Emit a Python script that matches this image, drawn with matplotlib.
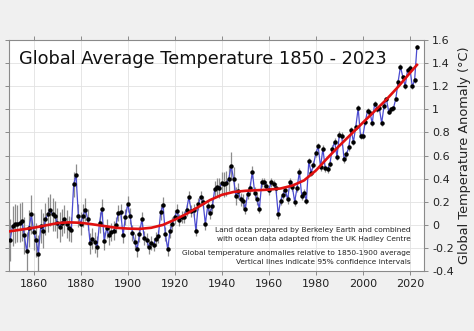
import numpy as np
import matplotlib
matplotlib.use("Agg")
import matplotlib.pyplot as plt

plt.rcParams['font.family'] = ['DejaVu Sans']
plt.rcParams['axes.unicode_minus'] = False

years = list(range(1850, 2024))
anomaly = [
    -0.13, -0.01, 0.01, 0.01, 0.02, 0.03, -0.09, -0.23, -0.03, 0.09,   # 1850s
    -0.06, -0.13, -0.25, -0.01, -0.05, 0.05, 0.09, 0.13, 0.09, 0.08,   # 1860s
    0.02, -0.02, 0.02, 0.05, 0.01, -0.03, -0.04, 0.35, 0.43, 0.08,     # 1870s
    0.01, 0.08, 0.13, 0.05, -0.16, -0.12, -0.15, -0.19, 0.02, 0.14,    # 1880s
    -0.14, -0.03, -0.09, -0.06, -0.05, 0.00, 0.10, 0.11, -0.09, 0.07,  # 1890s
    0.18, 0.08, -0.07, -0.15, -0.21, -0.08, 0.05, -0.11, -0.13, -0.19, # 1900s
    -0.16, -0.17, -0.12, -0.10, 0.11, 0.17, -0.08, -0.21, -0.05, 0.01, # 1910s
    0.07, 0.12, 0.04, 0.07, 0.07, 0.13, 0.24, 0.12, 0.13, -0.05,       # 1920s
    0.18, 0.24, 0.20, 0.01, 0.16, 0.10, 0.16, 0.31, 0.33, 0.32,        # 1930s
    0.36, 0.35, 0.36, 0.40, 0.51, 0.40, 0.25, 0.29, 0.22, 0.21,        # 1940s
    0.14, 0.27, 0.32, 0.46, 0.28, 0.22, 0.14, 0.37, 0.37, 0.34,        # 1950s
    0.30, 0.37, 0.35, 0.32, 0.09, 0.21, 0.26, 0.30, 0.22, 0.37,        # 1960s
    0.33, 0.20, 0.32, 0.46, 0.25, 0.28, 0.21, 0.55, 0.45, 0.52,        # 1970s
    0.62, 0.68, 0.50, 0.66, 0.49, 0.48, 0.53, 0.66, 0.72, 0.59,        # 1980s
    0.78, 0.77, 0.57, 0.61, 0.67, 0.82, 0.72, 0.85, 1.01, 0.77,        # 1990s
    0.77, 0.89, 0.99, 0.97, 0.88, 1.05, 1.00, 1.01, 0.88, 1.03,        # 2000s
    1.09, 0.98, 1.00, 1.01, 1.09, 1.24, 1.37, 1.28, 1.20, 1.34,        # 2010s
    1.36, 1.20, 1.25, 1.54,                                            # 2020s
]
uncertainty = [
    0.18, 0.17, 0.17, 0.16, 0.17, 0.17, 0.16, 0.17, 0.16, 0.17,
    0.16, 0.15, 0.16, 0.15, 0.15, 0.14, 0.15, 0.14, 0.14, 0.13,
    0.13, 0.13, 0.12, 0.12, 0.12, 0.11, 0.11, 0.11, 0.10, 0.10,
    0.10, 0.10, 0.10, 0.09, 0.09, 0.09, 0.09, 0.09, 0.09, 0.08,
    0.08, 0.08, 0.08, 0.08, 0.08, 0.07, 0.07, 0.07, 0.07, 0.07,
    0.07, 0.07, 0.07, 0.07, 0.07, 0.07, 0.06, 0.06, 0.06, 0.06,
    0.06, 0.06, 0.06, 0.06, 0.07, 0.07, 0.06, 0.06, 0.06, 0.06,
    0.06, 0.06, 0.05, 0.05, 0.05, 0.05, 0.05, 0.05, 0.05, 0.05,
    0.05, 0.05, 0.05, 0.05, 0.05, 0.05, 0.06, 0.07, 0.08, 0.09,
    0.10, 0.11, 0.11, 0.11, 0.12, 0.10, 0.08, 0.07, 0.06, 0.06,
    0.05, 0.05, 0.05, 0.05, 0.05, 0.05, 0.04, 0.04, 0.04, 0.04,
    0.04, 0.04, 0.04, 0.04, 0.04, 0.04, 0.04, 0.04, 0.035, 0.035,
    0.035, 0.035, 0.035, 0.035, 0.035, 0.03, 0.03, 0.03, 0.03, 0.03,
    0.03, 0.03, 0.03, 0.03, 0.03, 0.03, 0.03, 0.03, 0.03, 0.03,
    0.03, 0.03, 0.03, 0.03, 0.03, 0.025, 0.025, 0.025, 0.025, 0.025,
    0.025, 0.025, 0.025, 0.025, 0.025, 0.025, 0.025, 0.025, 0.025, 0.025,
    0.02, 0.02, 0.02, 0.02, 0.02, 0.02, 0.02, 0.02, 0.02, 0.02,
    0.02, 0.02, 0.02, 0.02,
]
trend_years = [1850, 1855, 1860, 1865, 1870, 1875, 1880, 1885, 1890, 1895,
               1900, 1905, 1910, 1915, 1920, 1925, 1930, 1935, 1940, 1945,
               1950, 1955, 1960, 1965, 1970, 1975, 1980, 1985, 1990, 1995,
               2000, 2005, 2010, 2015, 2020, 2023]
trend = [-0.055, -0.04, -0.025, -0.005, 0.015, 0.022, 0.018, 0.005, -0.01, -0.025,
         -0.032, -0.035, -0.025, 0.0, 0.045, 0.095, 0.155, 0.215, 0.26, 0.285,
         0.295, 0.30, 0.305, 0.315, 0.34, 0.385, 0.47, 0.58, 0.685, 0.785,
         0.885, 0.985, 1.085, 1.195, 1.315, 1.385]

xticks = [1860, 1880, 1900, 1920, 1940, 1960, 1980, 2000, 2020]
yticks = [-0.4, -0.2, 0, 0.2, 0.4, 0.6, 0.8, 1, 1.2, 1.4, 1.6]
ytick_labels = ['-0.4', '-0.2', '0', '0.2', '0.4', '0.6', '0.8', '1', '1.2', '1.4', '1.6']

title = 'Global Average Temperature 1850 - 2023'
ylabel = 'Global Temperature Anomaly (°C)'
notes = ['Land data prepared by Berkeley Earth and combined',
         'with ocean data adapted from the UK Hadley Centre',
         'Global temperature anomalies relative to 1850-1900 average',
         'Vertical lines indicate 95% confidence intervals']

fig = plt.figure(figsize=(4.74, 3.31), dpi=100, facecolor='#f0f0f0')
ax = fig.add_axes([0.019, 0.181, 0.8755, 0.698])
ax.set_facecolor('white')

ax.vlines(years, np.array(anomaly) - np.array(uncertainty),
          np.array(anomaly) + np.array(uncertainty),
          color='#8c8c8c', linewidth=0.9, zorder=2)
ax.plot(years, anomaly, color='#4b4bd0', linewidth=0.9, zorder=3)
ax.plot(years, anomaly, linestyle='none', marker='o', markersize=2.2,
        color='black', zorder=4)
ax.plot(trend_years, trend, color='#e01010', linewidth=1.9, zorder=5)

ax.set_xlim(1849.5, 2026)
ax.set_ylim(-0.4, 1.6)
ax.set_xticks(xticks)
ax.set_yticks(yticks)
ax.set_yticklabels(ytick_labels)
ax.grid(True, color='#e2e2e2', linewidth=0.6, zorder=0)
ax.set_axisbelow(True)

for s in ax.spines.values():
    s.set_color('#8a8a8a')
    s.set_linewidth(0.8)
ax.tick_params(direction='out', length=3, width=0.7, color='#8a8a8a',
               top=True, bottom=True, left=True, right=True,
               labelleft=False, labelright=True, labelsize=8,
               labelcolor='#222222', pad=3)
ax.yaxis.set_label_position('right')
ax.set_ylabel(ylabel, fontsize=9.3, color='#222222', labelpad=3)

ax.text(0.024, 0.918, title, transform=ax.transAxes, fontsize=12.8,
        color='#111111', va='center', ha='left')

ax.text(0.968, 0.158, notes[0] + '\n' + notes[1], transform=ax.transAxes,
        fontsize=5.35, ha='right', va='center', color='#222222', linespacing=1.5)
ax.text(0.968, 0.058, notes[2] + '\n' + notes[3], transform=ax.transAxes,
        fontsize=5.35, ha='right', va='center', color='#222222', linespacing=1.5)

fig.savefig('out.png', dpi=100, facecolor=fig.get_facecolor())
